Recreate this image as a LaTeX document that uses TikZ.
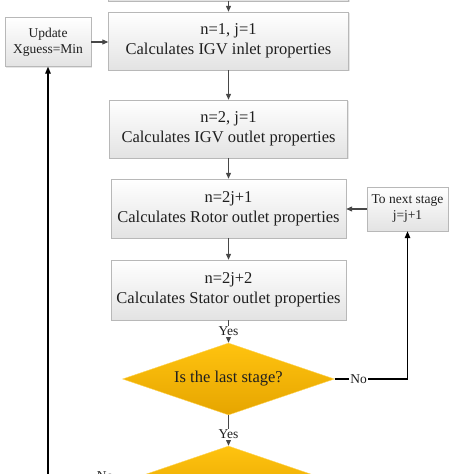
\documentclass[tikz,border=0pt]{standalone}
\usepackage{fontspec}
\setmainfont{Liberation Serif}
\usetikzlibrary{shapes.geometric, arrows.meta, shadows}

\definecolor{goldtop}{HTML}{FFC30F}
\definecolor{goldbot}{HTML}{E6A500}

\begin{document}
\begin{tikzpicture}[
    x=1pt, y=-1pt,
    every node/.style={inner sep=0pt},
    stepbox/.style={draw=black!28, top color=white, bottom color=black!11,
      drop shadow={opacity=0.2, shadow xshift=1.2pt, shadow yshift=-1.2pt},
      align=center, text=black!88, font=\fontsize{16.5}{20}\selectfont},
    smallbox/.style={stepbox, font=\fontsize{13.5}{16}\selectfont},
    decision/.style={diamond, aspect=2.94, draw=goldtop!70!white, top color=goldtop,
      bottom color=goldbot, text=black!88, font=\fontsize{16.5}{20}\selectfont},
    flow/.style={draw=black!72, line width=1.1pt, -{Triangle[length=6pt, width=5pt]}},
    loop/.style={draw=black, line width=1.3pt, -{Triangle[length=7pt, width=5.5pt]}},
    answer/.style={fill=white, inner sep=1pt, text=black!88, font=\fontsize{13.5}{16}\selectfont}
  ]
  \useasboundingbox (0,0) rectangle (474,474);
  \clip (0,0) rectangle (474,474);

  \node[stepbox, minimum width=240, minimum height=58] (prev) at (228.5,-28) {};
  \node[stepbox, minimum width=240, minimum height=58] (igvin) at (228.5,41)
    {n=1, j=1\\Calculates IGV inlet properties};
  \node[smallbox, minimum width=86, minimum height=49] (update) at (48,42)
    {Update\\Xguess=Min};
  \node[stepbox, minimum width=238, minimum height=58] (igvout) at (228.5,129)
    {n=2, j=1\\Calculates IGV outlet properties};
  \node[stepbox, minimum width=235, minimum height=59] (rotor) at (228.5,208.5)
    {n=2j+1\\Calculates Rotor outlet properties};
  \node[smallbox, minimum width=81, minimum height=44] (nextstage) at (407.5,209)
    {To next stage\\j=j+1};
  \node[stepbox, minimum width=235, minimum height=60] (stator) at (228.5,290)
    {n=2j+2\\Calculates Stator outlet properties};
  \node[decision, minimum width=212, minimum height=72] (laststage) at (228.5,379)
    {Is the last stage?};
  \node[decision, minimum width=176, minimum height=60] (nextcheck) at (228.5,476) {};

  \draw[flow] (prev) -- (igvin);
  \draw[flow] (update.east) -- (update.east -| igvin.west);
  \draw[flow] (igvin) -- (igvout);
  \draw[flow] (igvout) -- (rotor);
  \draw[flow] (nextstage.west) -- (nextstage.west -| rotor.east);
  \draw[flow] (rotor) -- (stator);
  \draw[flow] (stator) -- node[answer] {Yes} (laststage);
  \draw[flow] (laststage) -- node[answer, pos=0.63] {Yes} (nextcheck);

  % back to the next stage / back to the guess
  \draw[loop] (laststage.east) -- node[answer, pos=0.33] {No} (laststage.east -| nextstage)
    -- (nextstage);
  \draw[loop] (nextcheck.west) -- node[answer, pos=0.38] {No} (nextcheck.west -| update)
    -- (update);
\end{tikzpicture}
\end{document}
